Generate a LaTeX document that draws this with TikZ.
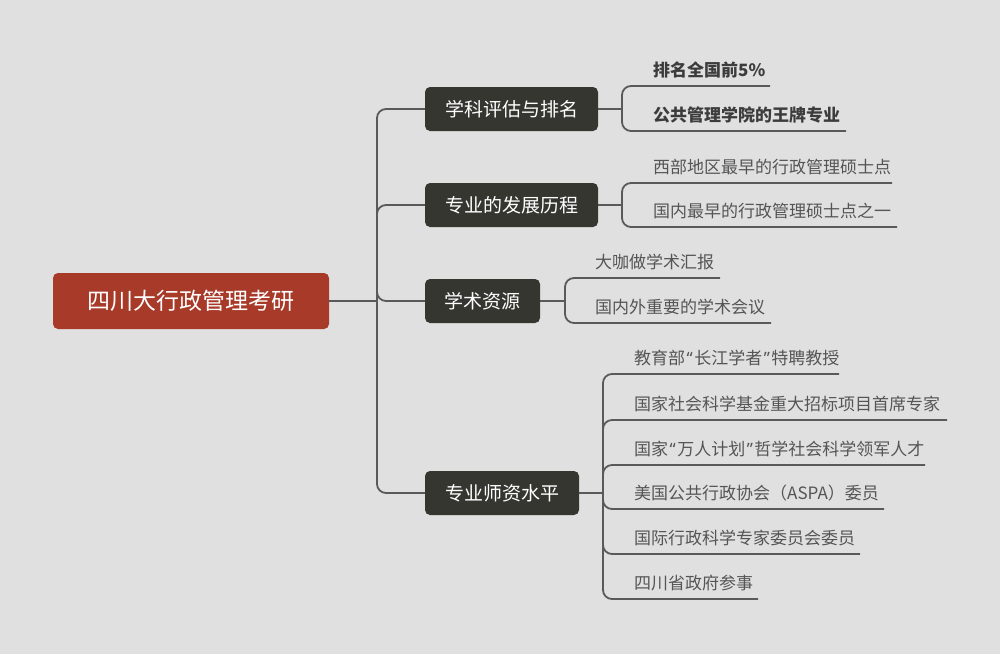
\documentclass[tikz,border=0pt]{standalone}
\usepackage{fontspec}
\setmainfont{Noto Sans CJK SC}
\newfontfamily\latq{Noto Sans}
\newcommand\myoq{\kern1.5pt{\latq “}\kern1.5pt}
\newcommand\mycq{\kern1.5pt{\latq ”}\kern1.5pt}
\definecolor{bg}{HTML}{E0E0E0}
\definecolor{rootred}{HTML}{A73A29}
\definecolor{branchdark}{HTML}{363631}
\definecolor{linegray}{HTML}{5A5A5A}
\definecolor{leafgray}{HTML}{555555}
\definecolor{leafbold}{HTML}{3C3C3C}
\begin{document}
\begin{tikzpicture}[x=1pt,y=-1pt,
  root/.style={fill=rootred, rounded corners=5pt, text=white, font=\fontsize{23}{26}\selectfont, minimum width=276pt, minimum height=56pt, inner sep=0pt},
  branch/.style={fill=branchdark, rounded corners=5pt, text=white, font=\fontsize{19}{22}\selectfont, minimum height=44pt, inner sep=0pt},
  leaf/.style={text=leafgray, font=\fontsize{17}{20}\selectfont, anchor=base west, inner sep=0pt},
  leafb/.style={leaf, text=leafbold, font=\fontsize{17}{20}\selectfont\bfseries},
  conn/.style={draw=linegray, line width=1.8pt, rounded corners=9pt}]
\fill[bg] (0,0) rectangle (1000,654);
\useasboundingbox (0,0) rectangle (1000,654);

\node[root] (root) at (191,301) {四川大行政管理考研};
\node[branch, minimum width=173pt] (b1) at (511.5,109) {学科评估与排名};
\node[branch, minimum width=173pt] (b2) at (511.5,205) {专业的发展历程};
\node[branch, minimum width=115pt] (b3) at (482.5,301) {学术资源};
\node[branch, minimum width=154pt] (b4) at (502,493) {专业师资水平};

\coordinate (t) at (377,301);
\draw[conn] (root.east) -- (t);
\foreach \b in {b1,b2,b3,b4} { \draw[conn] (t) |- (\b.west); }

% junctions
\coordinate (j1) at (622,109);
\coordinate (j2) at (622,205);
\coordinate (j3) at (565,301);
\coordinate (j4) at (603,493);
\draw[conn] (b1.east) -- (j1);
\draw[conn] (b2.east) -- (j2);
\draw[conn] (b3.east) -- (j3);
\draw[conn] (b4.east) -- (j4);

% branch 1 leaves
\node[leafb] (l11) at (653,76) {排名全国前5\%};
\node[leafb] (l12) at (653,121) {公共管理学院的王牌专业};
\coordinate (e11) at (770,86);
\coordinate (e12) at (846,131);
\draw[conn] (j1) |- (e11);
\draw[conn] (j1) |- (e12);

% branch 2 leaves
\node[leaf] (l21) at (653,173) {西部地区最早的行政管理硕士点};
\node[leaf] (l22) at (653,217) {国内最早的行政管理硕士点之一};
\coordinate (e21) at (892,183);
\coordinate (e22) at (897,227);
\draw[conn] (j2) |- (e21);
\draw[conn] (j2) |- (e22);

% branch 3 leaves
\node[leaf] (l31) at (595,268) {大咖做学术汇报};
\node[leaf] (l32) at (595,313) {国内外重要的学术会议};
\coordinate (e31) at (720,278);
\coordinate (e32) at (771,323);
\draw[conn] (j3) |- (e31);
\draw[conn] (j3) |- (e32);

% branch 4 leaves
\node[leaf] (l41) at (634,364) {教育部\myoq 长江学者\mycq 特聘教授};
\node[leaf] (l42) at (634,410) {国家社会科学基金重大招标项目首席专家};
\node[leaf] (l43) at (634,455) {国家\myoq 万人计划\mycq 哲学社会科学领军人才};
\node[leaf] (l44) at (634,499) {美国公共行政协会（ASPA）委员};
\node[leaf] (l45) at (634,544) {国际行政科学专家委员会委员};
\node[leaf] (l46) at (634,589) {四川省政府参事};
\coordinate (e41) at (839,374);
\coordinate (e42) at (947,420);
\coordinate (e43) at (925,465);
\coordinate (e44) at (884,509);
\coordinate (e45) at (860,554);
\coordinate (e46) at (758,599);
\foreach \e in {e41,e42,e43,e44,e45,e46} { \draw[conn] (j4) |- (\e); }
\end{tikzpicture}
\end{document}
